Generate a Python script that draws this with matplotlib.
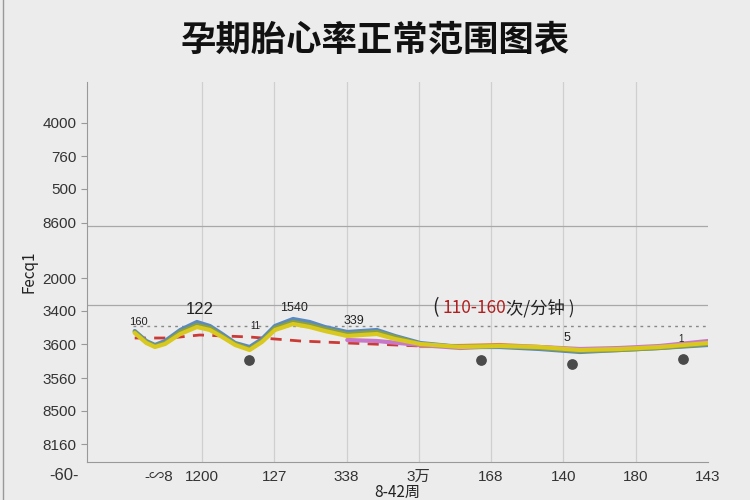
import matplotlib
matplotlib.use("Agg")
import matplotlib.pyplot as plt
from matplotlib.lines import Line2D

plt.rcParams['font.family'] = ['Noto Sans CJK SC', 'DejaVu Sans']
tick_family = ['Liberation Sans', 'Noto Sans CJK SC']

# ---- data ----
title = "孕期胎心率正常范围图表"
xlabel = "8-42周"
ylabel = "Fecq1"
x_ticks = [-0.6, 0, 1, 2, 3, 4, 5, 6, 7]
x_ticklabels = ["-∽8", "1200", "127", "338", "3万", "168", "140", "180", "143"]
y_ticks = [339, 306, 273, 239, 184, 151, 118, 84, 51, 18]
y_ticklabels = ["4000", "760", "500", "8600", "2000", "3400", "3600", "3560", "8500", "8160"]

x = [-0.93, -0.77, -0.65, -0.51, -0.30, -0.07, 0.11, 0.28, 0.46, 0.66, 0.83,
     1.01, 1.26, 1.49, 1.70, 2.01, 2.21, 2.42, 2.67, 3.02, 3.57, 4.12, 4.67,
     5.23, 5.78, 6.33, 7.0]
yellow = [129, 119, 115, 118, 128, 135, 132, 125, 117, 112, 120, 132, 138, 135,
          131, 126, 127, 128, 123, 118, 115, 116, 115, 112, 113, 115, 119]
blue = [131, 121, 117, 121, 132, 140, 136, 128, 119, 115, 123, 136, 143, 140,
        135, 130, 131, 132, 126, 119, 115, 115, 113, 110, 112, 114, 117]
olive = [130, 120, 116, 119, 130, 137, 134, 126, 118, 113, 121, 134, 140, 137,
         133, 128, 129, 130, 125, 118, 115, 116, 114, 111, 112, 114, 118]
pink_x = [2.01, 2.42, 3.02, 3.57, 4.12, 4.67, 5.23, 5.78, 6.33, 7.0]
pink = [122, 121, 117, 114, 116, 115, 113, 114, 116, 121]
orange_x = [3.02, 3.57, 4.12, 4.67, 5.23, 5.78, 6.33, 7.0]
orange = [116, 116, 117, 115, 112, 113, 115, 118]
red_x = [-0.93, -0.44, -0.03, 0.66, 1.36, 2.01, 3.02]
red = [124, 124, 127, 125, 121, 119, 116]
ref_level = 136
dots_x = [0.65, 3.86, 5.12, 6.65]
dots_y = [102, 102, 98, 103]
labels = [("160", -0.88, 135, 8), ("122", -0.03, 145, 12), ("1540", 1.27, 148, 9),
          ("339", 2.1, 135, 9), ("11", 0.74, 131, 7), ("5", 5.05, 118, 9),
          ("1", 6.62, 118, 7)]

bg = "#ececec"
fig = plt.figure(figsize=(7.5, 5), dpi=100, facecolor=bg)
ax = fig.add_axes([0.116, 0.076, 0.828, 0.76], facecolor=bg)
ax.set_xlim(-1.59, 7.0)
ax.set_ylim(0, 380)

for t in range(0, 7):
    ax.axvline(t, color="#cfcfcf", lw=0.9, zorder=0)
ax.axhline(236, color="#a8a8a8", lw=0.9, zorder=0)
ax.axhline(157, color="#a8a8a8", lw=0.9, zorder=0)

ax.plot([-0.95, 7.0], [ref_level, ref_level], color="#888888", lw=1.0,
        ls=(0, (2, 3)), zorder=2)
ax.plot(red_x, red, color="#cc3a36", lw=2, ls=(0, (4, 3)), zorder=3)
kw = dict(lw=3, solid_joinstyle="round", solid_capstyle="round")
ax.plot(orange_x, orange, color="#e08a3c", zorder=3, **kw)
ax.plot(pink_x, pink, color="#c878c8", zorder=3, **kw)
ax.plot(x, blue, color="#5a8ac0", zorder=4, **kw)
ax.plot(x, olive, color="#8aa040", zorder=4, **kw)
ax.plot(x, yellow, color="#d8c820", zorder=5, **kw)
ax.scatter(dots_x, dots_y, s=45, color="#4a4a4a", zorder=6)

for txt, lx, ly, fs in labels:
    ax.text(lx, ly, txt, fontsize=fs, color="#222222", ha="center", va="bottom",
            family=tick_family)

ax.text(3.18, 154, "(", fontsize=14, color="#222222", va="center")
ax.text(3.33, 154, "110-160", fontsize=12.5, color="#b02020", va="center")
ax.text(4.2, 154, "次/分钟 )", fontsize=12.5, color="#222222", va="center")

ax.set_xticks(x_ticks)
ax.set_xticklabels(x_ticklabels, fontsize=11, color="#333333", family=tick_family)
ax.tick_params(axis="x", length=0, pad=6)
ax.set_yticks(y_ticks)
ax.set_yticklabels(y_ticklabels, fontsize=11, color="#333333", family=tick_family)
ax.tick_params(axis="y", length=4, color="#999999")

for s in ["top", "right"]:
    ax.spines[s].set_visible(False)
for s in ["left", "bottom"]:
    ax.spines[s].set_color("#999999")

ax.set_xlabel(xlabel, fontsize=11, color="#222222", labelpad=0)
ax.set_ylabel(ylabel, fontsize=11, color="#222222", labelpad=4)

fig.text(0.105, 0.048, "-60-", fontsize=12, color="#333333", ha="right", va="center",
         family=tick_family)
fig.text(0.5, 0.92, title, fontsize=25.5, fontweight="bold", ha="center",
         va="center", color="#111111")
fig.add_artist(Line2D([0.004, 0.004], [0, 1], color="#999999", lw=1,
                      transform=fig.transFigure))

fig.savefig("out.png", dpi=100, facecolor=bg)
